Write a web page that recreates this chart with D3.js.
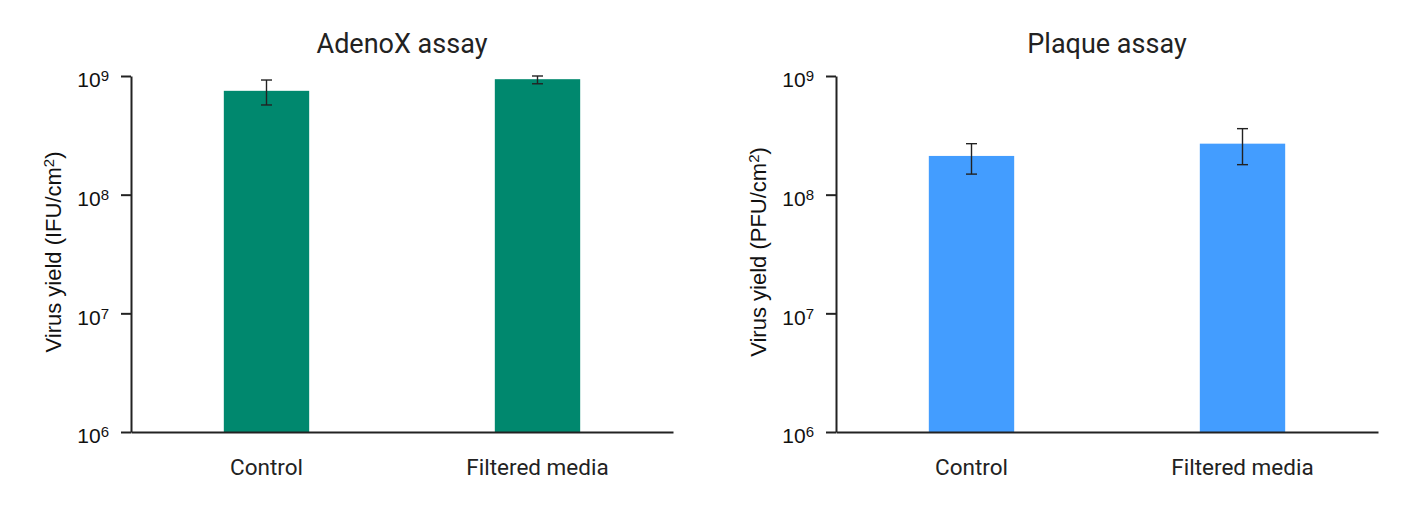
<!DOCTYPE html>
<html>
<head>
<meta charset="utf-8">
<script src="https://cdn.jsdelivr.net/npm/d3@7"></script>
<style>
  body { margin: 0; background: #fff; }
  .title, .cat { font-family: Roboto, "Noto Sans", sans-serif; fill: #222; }
  .tickLabel, .axisText { font-family: "Liberation Sans", Arial, sans-serif; fill: #111; }
</style>
</head>
<body>
<div id="chart"></div>
<script>
// data
var categories = ['Control', 'Filtered media'];
var yTicks = [1e6, 1e7, 1e8, 1e9];

var adenoxMeans = [7.5e8, 9.4e8];
var adenoxLow = [5.7e8, 8.6e8];
var adenoxHigh = [9.25e8, 1.0e9];

var plaqueMeans = [2.12e8, 2.69e8];
var plaqueLow = [1.49e8, 1.79e8];
var plaqueHigh = [2.69e8, 3.6e8];

// set up chart
var svgWidth = 1408;
var svgHeight = 508;
var width = 542;
var height = 356;

var svg = d3.select('#chart')
  .append('svg')
  .attr('width', svgWidth)
  .attr('height', svgHeight);

function drawPanel(left, top, title, unit, means, lows, highs, color) {
  var g = svg.append('g')
    .attr('transform', `translate(${left}, ${top})`);

  var x = d3.scaleBand()
    .domain(categories)
    .range([0, width])
    .paddingInner(0.685)
    .paddingOuter(0.3425);

  var y = d3.scaleLog()
    .domain([1e6, 1e9])
    .range([height, 0]);

  var rows = categories.map(function(c, i) {
    return { cat: c, mean: means[i], low: lows[i], high: highs[i] };
  });

  // bars
  g.selectAll('rect')
    .data(rows)
    .enter()
    .append('rect')
    .attr('x', d => x(d.cat))
    .attr('y', d => y(d.mean))
    .attr('width', x.bandwidth())
    .attr('height', d => height - y(d.mean))
    .attr('fill', color);

  // error bars
  var err = g.selectAll('.err')
    .data(rows)
    .enter()
    .append('g')
    .attr('class', 'err')
    .attr('stroke', '#222')
    .attr('stroke-width', 1.4);

  err.append('line')
    .attr('x1', d => x(d.cat) + x.bandwidth() / 2)
    .attr('x2', d => x(d.cat) + x.bandwidth() / 2)
    .attr('y1', d => y(d.low))
    .attr('y2', d => y(d.high));

  ['low', 'high'].forEach(function(k) {
    err.append('line')
      .attr('x1', d => x(d.cat) + x.bandwidth() / 2 - 5.5)
      .attr('x2', d => x(d.cat) + x.bandwidth() / 2 + 5.5)
      .attr('y1', d => y(d[k]))
      .attr('y2', d => y(d[k]));
  });

  // y axis
  var leftAxis = d3.axisLeft(y)
    .tickValues(yTicks)
    .tickSize(10)
    .tickSizeOuter(0)
    .tickPadding(12);

  var yAxis = g.append('g').call(leftAxis);
  yAxis.select('.domain').attr('stroke', '#222').attr('stroke-width', 2);
  yAxis.selectAll('.tick line').attr('stroke', '#222').attr('stroke-width', 2);
  yAxis.selectAll('.tick text')
    .attr('class', 'tickLabel')
    .style('font-size', '21px')
    .attr('dy', '0.52em')
    .each(function(d) {
      var t = d3.select(this);
      t.text('10');
      t.append('tspan')
        .attr('dy', '-6')
        .style('font-size', '15px')
        .text(Math.round(Math.log10(d)));
    });

  // x axis
  var bottomAxis = d3.axisBottom(x)
    .tickSize(0)
    .tickSizeOuter(0)
    .tickPadding(27);

  var xAxis = g.append('g')
    .attr('transform', `translate(0, ${height})`)
    .call(bottomAxis);
  xAxis.select('.domain').attr('stroke', '#222').attr('stroke-width', 2);
  xAxis.selectAll('.tick text')
    .attr('class', 'cat')
    .style('font-size', '22.5px');

  // title
  g.append('text')
    .attr('class', 'title')
    .attr('x', width / 2)
    .attr('y', -23)
    .style('text-anchor', 'middle')
    .style('font-size', '27px')
    .text(title);

  // y axis label
  var lab = g.append('text')
    .attr('class', 'axisText')
    .attr('transform', 'rotate(-90)')
    .attr('x', -height / 2 + 2)
    .attr('y', -78)
    .attr('dy', '0.35em')
    .style('text-anchor', 'middle')
    .style('font-size', '22px');
  lab.append('tspan').text(`Virus yield (${unit}/cm`);
  lab.append('tspan').attr('dy', '-7').style('font-size', '15px').text('2');
  lab.append('tspan').attr('dy', '7').text(')');
}

drawPanel(131, 76, 'AdenoX assay', 'IFU', adenoxMeans, adenoxLow, adenoxHigh, '#00886e');
drawPanel(836, 76, 'Plaque assay', 'PFU', plaqueMeans, plaqueLow, plaqueHigh, '#439dff');
</script>
</body>
</html>
